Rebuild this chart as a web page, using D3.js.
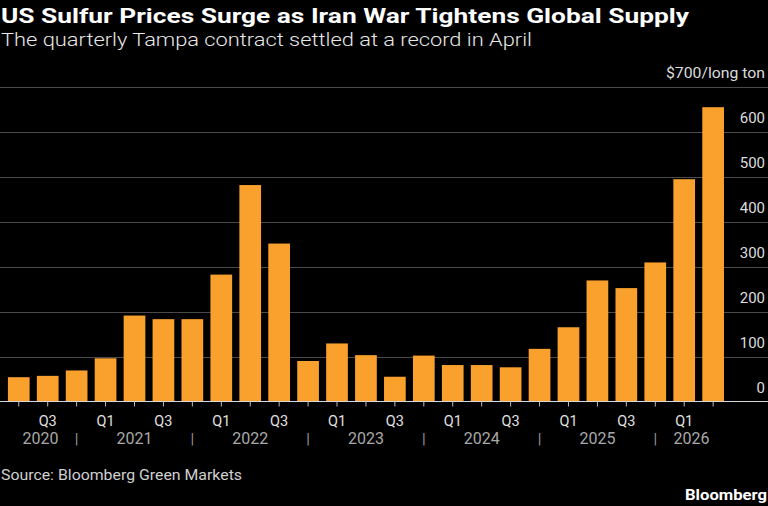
<!DOCTYPE html>
<html><head><meta charset="utf-8">
<script src="https://cdn.jsdelivr.net/npm/d3@7"></script>
<style>
html,body{margin:0;padding:0;background:#000;}
svg{display:block;}
text{font-family:Roboto,"Liberation Sans",sans-serif;}
</style></head>
<body>
<svg id="c" width="768" height="506"></svg>
<script>
const quarters = ["2020 Q2","2020 Q3","2020 Q4","2021 Q1","2021 Q2","2021 Q3","2021 Q4","2022 Q1","2022 Q2","2022 Q3","2022 Q4","2023 Q1","2023 Q2","2023 Q3","2023 Q4","2024 Q1","2024 Q2","2024 Q3","2024 Q4","2025 Q1","2025 Q2","2025 Q3","2025 Q4","2026 Q1","2026 Q2"];
const prices = [54,57,69,96,191,183,183,282,481,351,90,129,103,55,102,81,81,76,117,165,269,252,309,494,654];
const yTicks = [0,100,200,300,400,500,600,700];
const shownQuarters = ["Q1","Q3"];
const years = ["2020","2021","2022","2023","2024","2025","2026"];

const W = 768, H = 506;
const svg = d3.select("#c");
svg.append("rect").attr("width",W).attr("height",H).attr("fill","#000");

const x = d3.scaleBand().domain(quarters).range([4.3,727.6]).paddingInner(0.25).paddingOuter(0.125);
const y = d3.scaleLinear().domain([0,700]).range([401.5,86.5]);

// gridlines
const grid = svg.append("g");
yTicks.filter(t=>t>0).forEach(t=>{
  grid.append("line").attr("x1",0).attr("x2",W).attr("y1",Math.round(y(t))+0.5).attr("y2",Math.round(y(t))+0.5)
    .attr("stroke","#4a4a4a").attr("stroke-width",1);
});
// y labels
yTicks.forEach(t=>{
  const tx = svg.append("text").attr("x",765).attr("y",y(t)-9).attr("text-anchor","end")
    .attr("fill","#dcdcdc").attr("font-size",15)
    .text(t===700 ? "$700/long ton" : t);
  if(t===700) tx.attr("textLength",99).attr("lengthAdjust","spacingAndGlyphs");
});

// bars
svg.append("g").selectAll("rect").data(prices).join("rect")
  .attr("x",(d,i)=>x(quarters[i])).attr("width",x.bandwidth())
  .attr("y",d=>y(d)).attr("height",d=>y(0)-y(d))
  .attr("fill","#f9a12c");

// baseline
svg.append("line").attr("x1",0).attr("x2",W).attr("y1",401.5).attr("y2",401.5).attr("stroke","#d8d8d8").attr("stroke-width",1);

// x axis ticks & quarter labels
const xAxis = d3.axisBottom(x).tickSize(5).tickFormat(q=>{const p=q.split(" ")[1]; return shownQuarters.includes(p)?p:"";});
const gx = svg.append("g").attr("transform","translate(0,401.5)").call(xAxis);
gx.select(".domain").remove();
gx.selectAll(".tick line").attr("stroke","#bdbdbd");
gx.selectAll(".tick text").attr("fill","#e0e0e0").attr("font-size",14.5).attr("font-family","Roboto,sans-serif").attr("dy","0").attr("y",24);

// year separators and labels
const seps = quarters.filter(q=>q.endsWith("Q4")).map(q=>x(q)+x.bandwidth()/2);
const bounds = [x.range()[0], ...seps, x.range()[1]];
seps.forEach(s=>{
  svg.append("text").attr("x",s).attr("y",444).attr("text-anchor","middle").attr("fill","#9a9a9a").attr("font-size",15).text("|");
});
years.forEach((yr,i)=>{
  svg.append("text").attr("x",(bounds[i]+bounds[i+1])/2).attr("y",444).attr("text-anchor","middle")
    .attr("fill","#a8a8a8").attr("font-size",16).text(yr);
});

// titles
svg.append("text").attr("x",1).attr("y",23).attr("fill","#fff").attr("font-weight","bold").attr("font-size",20)
  .attr("textLength",688).attr("lengthAdjust","spacingAndGlyphs")
  .text("US Sulfur Prices Surge as Iran War Tightens Global Supply");
svg.append("text").attr("x",1).attr("y",46).attr("fill","#e8e8e8").attr("font-size",17.5).attr("font-weight",300)
  .attr("textLength",531).attr("lengthAdjust","spacingAndGlyphs")
  .text("The quarterly Tampa contract settled at a record in April");
svg.append("text").attr("x",1).attr("y",480).attr("fill","#d0d0d0").attr("font-size",15)
  .attr("textLength",241).attr("lengthAdjust","spacingAndGlyphs")
  .text("Source: Bloomberg Green Markets");
svg.append("text").attr("x",767).attr("y",500).attr("text-anchor","end").attr("fill","#fff").attr("font-weight","bold").attr("font-size",15.5)
  .attr("textLength",82).attr("lengthAdjust","spacingAndGlyphs")
  .text("Bloomberg");
</script>
</body></html>
